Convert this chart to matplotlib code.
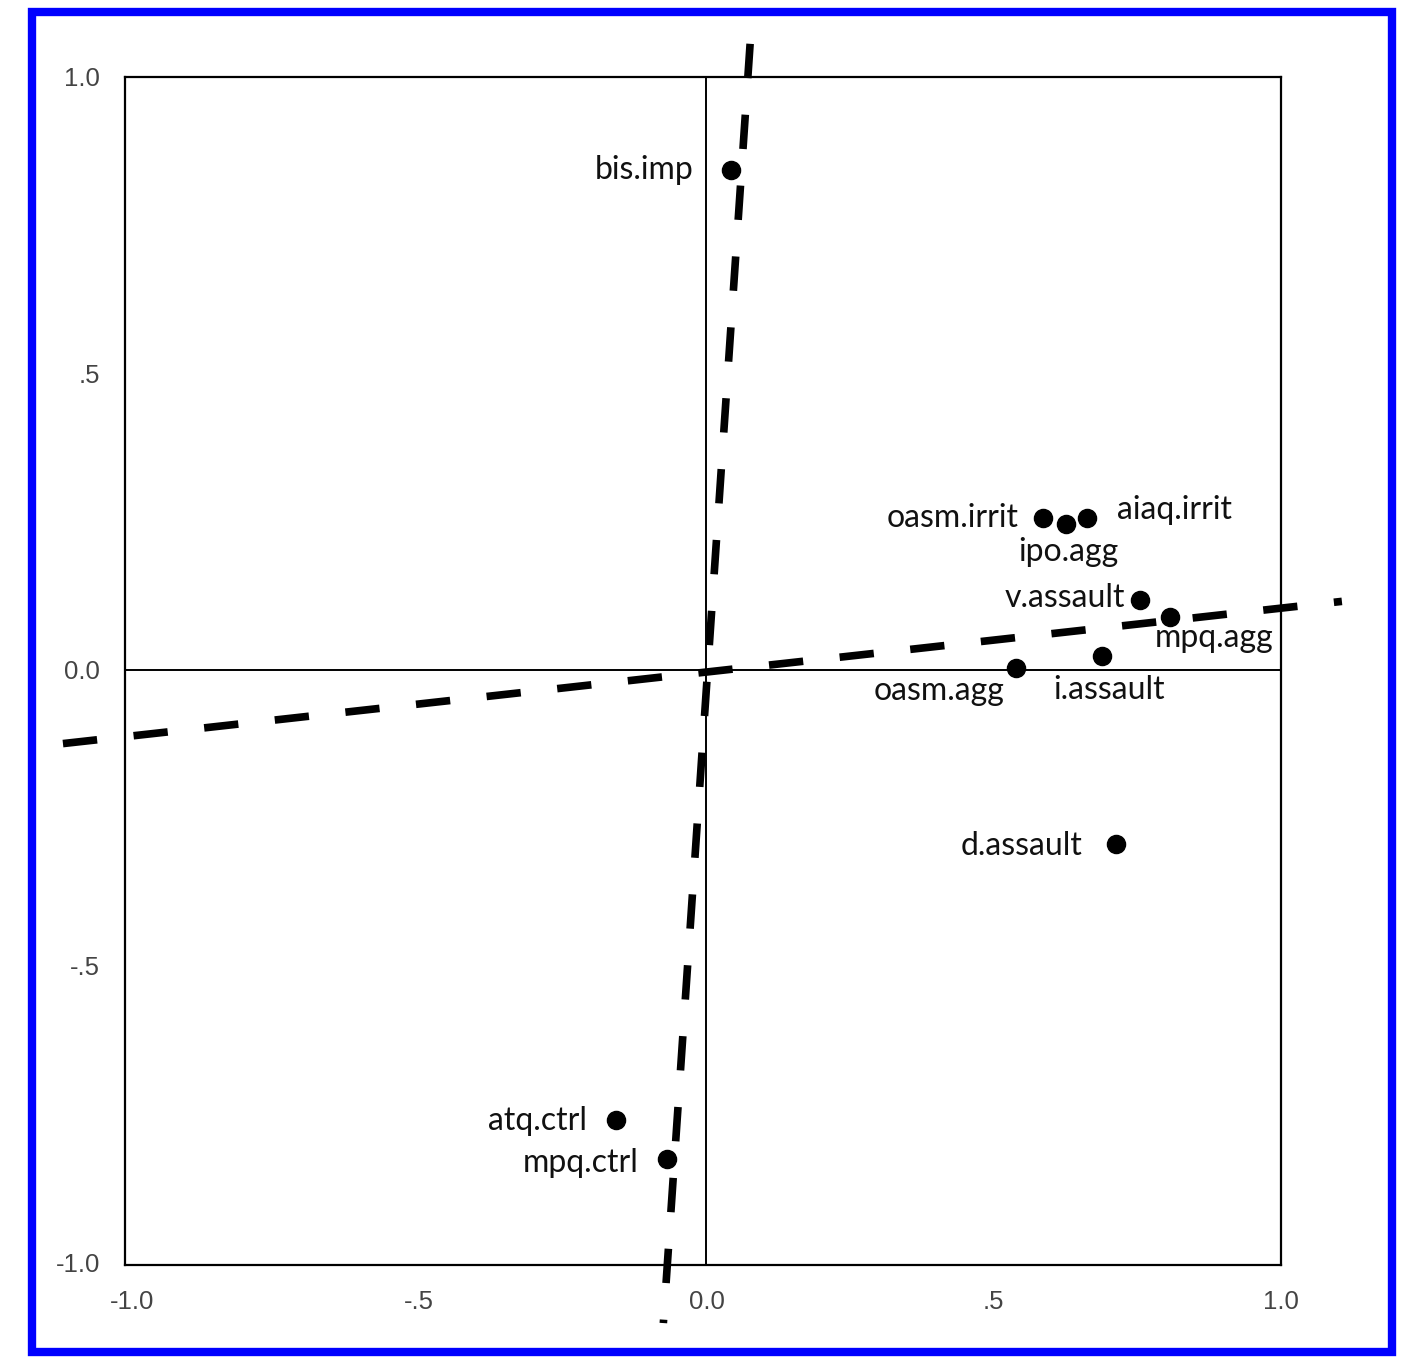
import matplotlib
matplotlib.use("Agg")
import matplotlib.pyplot as plt
from matplotlib.patches import Rectangle

# loadings
names = ['bis.imp', 'oasm.irrit', 'ipo.agg', 'aiaq.irrit', 'v.assault', 'mpq.agg',
         'i.assault', 'oasm.agg', 'd.assault', 'atq.ctrl', 'mpq.ctrl']
xs = [0.043, 0.585, 0.625, 0.663, 0.755, 0.807, 0.688, 0.538, 0.712, -0.158, -0.069]
ys = [0.843, 0.255, 0.246, 0.255, 0.118, 0.089, 0.022, 0.003, -0.295, -0.760, -0.826]

# label offsets in points, alignment
offs = [(-27, 0, 'right'), (-17, 0, 'right'), (2, -20, 'center'), (21, 6, 'left'),
        (-11, 1, 'right'), (-11, -15, 'left'), (5, -24, 'center'), (-8, -17, 'right'),
        (-24, -1, 'right'), (-21, -1, 'right'), (-20, -3, 'right')]

# rotated axes (dashed), end points
rot1_x = [-1.12, 1.106]
rot1_y = [-0.125, 0.115]
rot2_x = [0.076, -0.075]
rot2_y = [1.056, -1.103]

ticks = [-1.0, -0.5, 0.0, 0.5, 1.0]
tick_labels = ['-1.0', '-.5', '0.0', '.5', '1.0']

fig = plt.figure(figsize=(14.01, 13.57), dpi=100)
ax = fig.add_axes([125/1401, 92/1357, 1156/1401, 1188/1357])
ax.set_xlim(-1.012, 0.995)
ax.set_ylim(-1.005, 1.0)

ax.axhline(0, color='black', lw=1.4)
ax.axvline(0, color='black', lw=1.4)

ax.plot(rot1_x, rot1_y, color='black', lw=5.5, dashes=(4.5, 4.8), clip_on=False,
        dash_capstyle='butt')
ax.plot(rot2_x, rot2_y, color='black', lw=5.5, dashes=(4.5, 4.8), clip_on=False,
        dash_capstyle='butt')

ax.scatter(xs, ys, s=170, color='black', zorder=5)
for n, x, y, (dx, dy, ha) in zip(names, xs, ys, offs):
    ax.annotate(n, (x, y), xytext=(dx, dy), textcoords='offset points',
                ha=ha, va='center', fontsize=23, family='Lato', color='#111111')

ax.set_xticks(ticks)
ax.set_xticklabels(tick_labels)
ax.set_yticks(ticks)
ax.set_yticklabels(tick_labels)
ax.tick_params(length=0, pad=18, labelsize=18.5, labelcolor='#444444')
for lab in ax.get_xticklabels() + ax.get_yticklabels():
    lab.set_family('Liberation Sans')
for sp in ax.spines.values():
    sp.set_linewidth(1.6)

# blue frame round the picture
fig.patches.append(Rectangle((32/1401, 5/1357), 1360/1401, 1340/1357,
                             transform=fig.transFigure, fill=False,
                             edgecolor='#0000ff', lw=6))

fig.savefig('out.png', dpi=100)
